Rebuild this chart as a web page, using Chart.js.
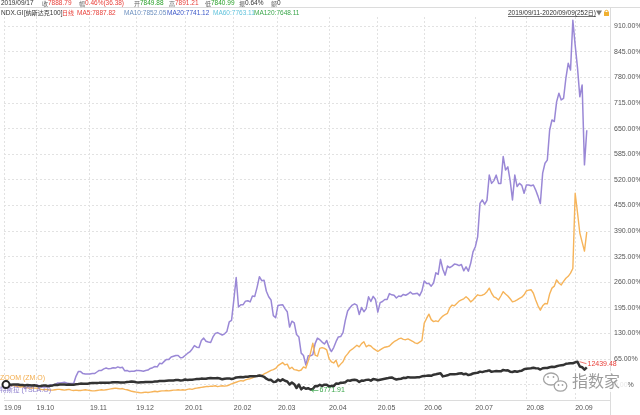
<!DOCTYPE html>
<html>
<head>
<meta charset="utf-8">
<script src="https://cdn.jsdelivr.net/npm/chart.js@4.4.1/dist/chart.umd.min.js"></script>
<style>
  html, body { margin: 0; padding: 0; background: #fff; }
  #wrap { position: relative; width: 640px; height: 415px; }
</style>
</head>
<body>
<div id="wrap"><canvas id="chart" width="640" height="415"></canvas></div>
<script>
// x = trading day index from 2019/09/11 (0) to 2020/09/09 (251)
const monthTickDays = [0, 14, 37, 57, 78, 99, 118, 140, 161, 181, 203, 225, 246];
const monthTickLabels = ['19.09', '19.10', '19.11', '19.12', '20.01', '20.02', '20.03', '20.04', '20.05', '20.06', '20.07', '20.08', '20.09'];
const yTicks = [0, 65, 130, 195, 260, 325, 390, 455, 520, 585, 650, 715, 780, 845, 910];

// cumulative change in %, one value per trading day
const tslaPct = [
  0,-1,-1,-2,-1,-2,-1,-3,-2,-10,-7,-2,-2,-3,
  -1,-2,-6,-6,-4,-3,-1,-1,0,4,4,5,6,4,3,3,3,21,33,33,28,27,27,
  27,28,28,32,36,36,40,42,40,41,43,42,45,43,44,35,36,33,34,34,
  36,36,35,34,36,37,41,43,46,45,54,53,59,64,64,70,72,74,74,68,69,
  74,79,83,90,99,95,94,112,118,110,108,107,121,130,132,129,126,129,135,159,163,
  216,272,197,203,203,212,213,210,225,224,247,274,264,265,237,223,215,175,170,
  201,202,203,193,185,146,161,157,127,121,80,74,50,73,73,76,104,118,114,108,103,112,
  95,84,94,109,121,122,132,163,187,195,202,205,202,178,196,185,193,223,211,224,216,
  184,208,211,216,216,231,228,227,220,225,224,229,227,230,235,230,231,232,226,238,
  263,257,257,250,258,284,280,318,293,278,301,297,301,306,305,302,305,289,299,288,308,337,
  350,375,460,469,458,468,532,511,518,532,511,511,579,545,553,518,469,532,503,511,506,486,
  507,507,505,507,494,478,460,537,562,570,646,672,668,718,740,723,727,778,816,799,925,
  862,805,731,761,558,646
];
const zmPct = [
  0,-1,-2,-3,-2,-4,-5,-6,-5,-7,-8,-9,-8,-9,
  -9,-10,-12,-13,-12,-13,-14,-14,-13,-12,-12,-13,-14,-13,-12,-14,-15,-14,-15,-15,-14,-13,-14,
  -15,-16,-16,-15,-14,-13,-14,-13,-12,-11,-10,-9,-10,-11,-10,-12,-13,-15,-17,-18,
  -19,-20,-21,-20,-19,-20,-19,-18,-17,-18,-17,-16,-16,-15,-16,-15,-14,-14,-13,-14,-13,
  -14,-12,-11,-12,-10,-9,-8,-7,-6,-5,-5,-4,-4,-3,-5,-4,-3,-4,-3,-1,2,
  4,6,8,10,9,12,14,15,17,20,22,24,23,27,30,33,36,38,41,
  48,52,56,50,52,40,44,38,37,35,37,45,42,60,80,105,75,72,92,94,92,88,
  66,58,55,62,45,52,58,71,78,86,90,95,100,96,104,109,96,100,98,92,88,
  84,88,92,95,96,98,104,109,112,116,118,115,114,116,113,110,106,104,108,112,
  156,168,179,165,160,162,160,168,174,178,181,195,202,200,206,212,215,218,223,218,210,215,
  222,228,226,227,230,236,245,232,223,220,215,225,236,230,225,218,210,212,215,219,222,228,
  238,240,241,232,215,200,189,200,206,205,230,245,250,266,258,253,262,270,275,283,295,
  486,437,385,362,339,388
];
const ndxPct = [
  0,0.4,0.1,-0.3,0.2,0.3,0.3,-0.9,-0.9,-2.3,-1.1,-1.6,-2.5,-1.8,
  -2.9,-4.5,-3.5,-2.0,-2.4,-4.0,-2.9,-2.0,-0.6,-0.8,0.4,0.1,0.5,-0.4,0.4,-0.4,-0.2,0.8,1.5,2.5,1.9,2.3,2.4,
  3.5,4.0,3.9,3.8,4.4,4.8,4.6,4.9,5.0,5.1,6.0,6.1,6.2,5.5,5.4,5.6,6.8,7.1,7.6,7.1,
  6.0,5.3,5.8,5.9,6.8,6.4,6.5,6.9,7.8,8.0,9.0,9.1,9.1,9.8,10.4,10.6,10.6,11.6,11.5,10.7,11.0,
  12.8,11.8,12.5,12.4,13.3,14.3,14.0,15.2,14.6,14.8,16.0,16.5,16.3,16.2,16.5,15.5,13.4,15.0,15.4,15.8,14.1,
  15.6,18.0,18.6,19.2,18.6,20.0,20.1,21.2,21.0,21.4,22.0,23.0,22.0,19.8,15.0,11.7,12.2,6.8,7.2,
  12.8,9.3,13.3,9.8,7.9,0.4,5.3,1.0,-8.6,0.4,-12.0,-7.1,-10.6,-9.1,-12.4,-11.0,-3.7,-4.2,-0.5,-3.4,-0.3,-0.5,
  -4.6,-3.2,-4.0,2.8,2.0,4.8,4.8,6.0,10.7,9.7,11.6,12.5,11.2,6.9,10.2,10.1,12.0,12.6,10.1,14.0,13.2,
  11.0,12.5,13.8,14.8,15.9,17.5,18.3,15.4,13.0,14.0,14.9,17.2,16.7,19.0,17.8,18.3,18.0,18.6,18.9,21.0,
  21.7,22.3,23.3,22.3,25.1,26.1,27.4,28.7,20.9,22.2,23.6,26.0,26.5,26.6,26.8,28.2,29.1,26.2,27.6,24.2,25.7,28.2,
  29.3,30.1,32.9,31.7,33.6,34.4,36.1,32.4,33.6,34.4,34.0,33.8,37.2,36.1,36.3,32.9,31.9,34.1,32.5,34.3,35.4,38.9,
  40.5,40.6,41.4,42.7,41.8,41.2,38.3,41.5,42.3,42.3,44.1,45.2,44.5,46.5,48.2,49.1,49.8,52.9,53.4,54.3,54.3,
  56.6,58.2,46.0,44.1,38.2,43.8
];
const ndxHigh = '12439.48';
const ndxLow = '6771.91';

const NUM_FONT = '"Liberation Sans", Arial, sans-serif';
const CJK_FONT = '"Noto Sans CJK SC", sans-serif';

const toPoints = arr => arr.map((v, i) => ({ x: i, y: v }));

// header rows: [text, color, x]
const headRow1 = [
  ['2019/09/17', '#333', 1], ['收', '#666', 42], ['7888.79', '#e8403a', 48],
  ['幅', '#666', 79], ['0.46%(36.38)', '#e8403a', 85], ['开', '#666', 134],
  ['7849.88', '#2aa02a', 140], ['高', '#666', 169], ['7891.21', '#e8403a', 175],
  ['低', '#666', 205], ['7840.99', '#2aa02a', 211], ['振', '#666', 239],
  ['0.64%', '#333', 245], ['额', '#666', 271], ['0', '#333', 277]
];
const headRow2 = [
  ['NDX.GI', '#333', 1], ['[纳斯达克100]', '#333', 24], ['日线', '#e8403a', 62],
  ['MA5:7887.82', '#e8403a', 77], ['MA10:7852.05', '#6b8fbf', 124],
  ['MA20:7741.12', '#3a56c8', 167], ['MA60:7763.11', '#62c3dc', 213],
  ['MA120:7648.11', '#3aa64a', 254]
];

// draw text with CJK runs in a slightly smaller CJK face
function mixedText(ctx, text, x, y, size) {
  const runs = text.match(/[\u3400-\u9fff]+|[^\u3400-\u9fff]+/g) || [];
  runs.forEach(r => {
    const cjk = /[\u3400-\u9fff]/.test(r);
    ctx.font = cjk ? (size - 0.5) + 'px ' + CJK_FONT : size + 'px ' + NUM_FONT;
    ctx.fillText(r, x, y);
    x += ctx.measureText(r).width;
  });
  return x;
}

const overlay = {
  id: 'overlay',
  beforeDraw(chart) {
    const ctx = chart.ctx;
    ctx.save();
    ctx.fillStyle = '#fff';
    ctx.fillRect(0, 0, 640, 415);
    ctx.strokeStyle = '#dcdcdc';
    ctx.lineWidth = 1;
    ctx.beginPath();
    ctx.moveTo(0, 7.5); ctx.lineTo(640, 7.5);
    ctx.moveTo(610.5, 7.5); ctx.lineTo(610.5, 415);
    ctx.stroke();
    ctx.textBaseline = 'middle';
    ctx.textAlign = 'left';
    headRow1.forEach(([t, c, x]) => { ctx.fillStyle = c; mixedText(ctx, t, x, 3.5, 6.5); });
    headRow2.forEach(([t, c, x]) => { ctx.fillStyle = c; mixedText(ctx, t, x, 13, 6.5); });
    const range = '2019/09/11-2020/09/09(252日)';
    ctx.fillStyle = '#333';
    const end = mixedText(ctx, range, 508, 13, 6.5);
    ctx.fillRect(508, 16, end - 508, 0.7);
    ctx.fillStyle = '#777';
    ctx.beginPath();
    ctx.moveTo(596, 10.5); ctx.lineTo(602, 10.5); ctx.lineTo(599, 15.5); ctx.closePath();
    ctx.fill();
    ctx.fillStyle = '#f0b030';
    ctx.fillRect(604, 12, 5, 4);
    ctx.strokeStyle = '#f0b030';
    ctx.lineWidth = 1;
    ctx.beginPath();
    ctx.arc(606.5, 12, 1.7, Math.PI, 0);
    ctx.stroke();
    ctx.restore();
  },
  afterDatasetsDraw(chart) {
    const ctx = chart.ctx;
    const xs = chart.scales.x, ys = chart.scales.y;
    ctx.save();
    ctx.textBaseline = 'middle';
    ctx.textAlign = 'left';
    ctx.fillStyle = '#f3ad4e';
    mixedText(ctx, 'ZOOM (ZM.O)', 0, 378, 7);
    ctx.fillStyle = '#8a7acc';
    mixedText(ctx, '特斯拉 (TSLA.O)', 0, 390, 7);

    // start marker
    ctx.beginPath();
    ctx.arc(xs.getPixelForValue(0) + 2, ys.getPixelForValue(ndxPct[0]), 3.5, 0, Math.PI * 2);
    ctx.fillStyle = '#fff';
    ctx.fill();
    ctx.lineWidth = 2;
    ctx.strokeStyle = '#222';
    ctx.stroke();

    // high / low marks on the index line
    let hi = 0, lo = 0;
    ndxPct.forEach((v, i) => { if (v > ndxPct[hi]) hi = i; if (v < ndxPct[lo]) lo = i; });
    ctx.font = '7px ' + NUM_FONT;
    const hx = xs.getPixelForValue(hi), hy = ys.getPixelForValue(ndxPct[hi]);
    ctx.strokeStyle = '#e8403a';
    ctx.lineWidth = 0.7;
    ctx.beginPath(); ctx.moveTo(hx + 2, hy); ctx.lineTo(hx + 9, hy + 2); ctx.stroke();
    ctx.fillStyle = '#e8403a';
    ctx.fillText(ndxHigh, hx + 10, hy + 2);
    const lx = xs.getPixelForValue(lo), ly = ys.getPixelForValue(ndxPct[lo]);
    ctx.strokeStyle = '#3aa64a';
    ctx.beginPath(); ctx.moveTo(lx + 1, ly + 1); ctx.lineTo(lx + 8, ly + 1);
    ctx.moveTo(lx + 1, ly + 1); ctx.lineTo(lx + 3.5, ly - 0.8);
    ctx.moveTo(lx + 1, ly + 1); ctx.lineTo(lx + 3.5, ly + 2.8);
    ctx.stroke();
    ctx.fillStyle = '#3aa64a';
    ctx.fillText(ndxLow, lx + 9, ly + 1);
    ctx.restore();
  },
  afterDraw(chart) {
    // watermark over the lower right corner
    const ctx = chart.ctx;
    ctx.save();
    ctx.fillStyle = 'rgba(255,255,255,0.85)';
    ctx.fillRect(541, 371, 87, 21);
    ctx.strokeStyle = '#a4a4a4';
    ctx.lineWidth = 1.3;
    ctx.beginPath(); ctx.ellipse(551, 379, 7.5, 6, 0, 0, Math.PI * 2); ctx.stroke();
    ctx.beginPath(); ctx.ellipse(560.5, 386, 6.3, 5.2, 0, 0, Math.PI * 2);
    ctx.fillStyle = '#fff'; ctx.fill(); ctx.stroke();
    ctx.fillStyle = '#a4a4a4';
    [[548, 377], [553.5, 377], [558.5, 385], [562.5, 385]].forEach(([x, y]) => {
      ctx.beginPath(); ctx.arc(x, y, 0.9, 0, Math.PI * 2); ctx.fill();
    });
    ctx.textBaseline = 'middle';
    ctx.font = '16px ' + CJK_FONT;
    ctx.fillStyle = '#9c9c9c';
    ctx.fillText('指数家', 572, 381);
    ctx.restore();
  }
};

new Chart(document.getElementById('chart'), {
  type: 'line',
  data: {
    datasets: [
      { label: 'NDX.GI', data: toPoints(ndxPct), borderColor: '#333', borderWidth: 2.5 },
      { label: 'ZOOM (ZM.O)', data: toPoints(zmPct), borderColor: '#f6b45a', borderWidth: 1.4 },
      { label: '特斯拉 (TSLA.O)', data: toPoints(tslaPct), borderColor: '#9a88d6', borderWidth: 1.5 }
    ]
  },
  options: {
    responsive: false,
    animation: false,
    devicePixelRatio: 1,
    layout: { padding: { top: 17, left: 0, right: 0, bottom: 0 } },
    elements: { point: { radius: 0 }, line: { tension: 0, borderJoinStyle: 'round' } },
    plugins: { legend: { display: false }, tooltip: { enabled: false } },
    scales: {
      x: {
        type: 'linear', min: 0, max: 261,
        afterBuildTicks: s => { s.ticks = monthTickDays.map(v => ({ value: v })); },
        afterFit: s => { s.height = 15; },
        grid: { color: '#e2e2e2', drawTicks: false },
        border: { display: true, color: '#dcdcdc', dash: [2, 2] },
        ticks: {
          autoSkip: false, maxRotation: 0, align: 'start', padding: 4,
          color: '#555', font: { size: 7, family: NUM_FONT },
          callback: (v, i) => monthTickLabels[i]
        }
      },
      y: {
        position: 'right', min: -39.1, max: 933.5,
        afterBuildTicks: s => { s.ticks = yTicks.map(v => ({ value: v })); },
        afterFit: s => { s.width = 30; },
        grid: { color: '#e2e2e2', drawTicks: false },
        border: { display: false, dash: [2, 2] },
        ticks: {
          padding: 4, color: '#555', font: { size: 7, family: NUM_FONT },
          callback: v => v.toFixed(2) + '%'
        }
      }
    }
  },
  plugins: [overlay]
});
</script>
</body>
</html>
